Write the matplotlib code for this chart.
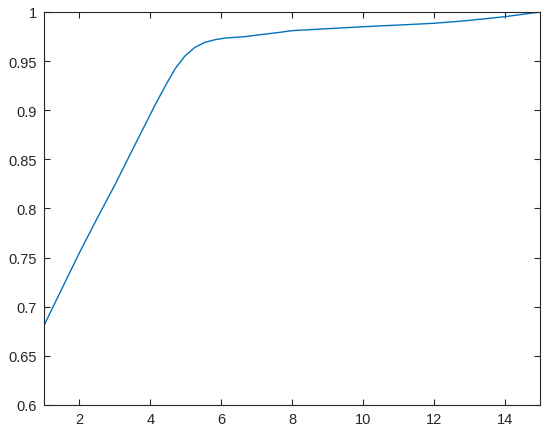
import matplotlib
matplotlib.use("Agg")
import matplotlib.pyplot as plt
from matplotlib.ticker import FixedLocator, FuncFormatter

x_vals = [1.0, 1.5, 2.0, 2.5, 3.0, 3.5, 3.85, 4.13, 4.42, 4.70, 4.98, 5.26,
          5.54, 5.83, 6.11, 6.67, 7.10, 7.66, 8.0, 9.0, 10.0, 11.0, 12.0,
          12.93, 14.0, 15.0]
y_vals = [0.681, 0.718, 0.755, 0.790, 0.824, 0.860, 0.885, 0.905, 0.9245,
          0.9422, 0.9553, 0.9640, 0.9691, 0.9718, 0.9735, 0.9749, 0.9769,
          0.9793, 0.981, 0.983, 0.985, 0.9867, 0.9885, 0.9912, 0.9952, 1.0]

x_ticks = [2, 4, 6, 8, 10, 12, 14]
y_ticks = [0.6, 0.65, 0.7, 0.75, 0.8, 0.85, 0.9, 0.95, 1.0]

plt.rcParams['font.family'] = ['Liberation Sans', 'DejaVu Sans']

fig = plt.figure(figsize=(5.5, 4.39), dpi=100)
ax = fig.add_axes([44/550, 1-406/439, (540-44)/550, (406-13)/439])
ax.plot(x_vals, y_vals, color='#0072BD', lw=1.0, solid_joinstyle='round')
ax.set_xlim(1, 15)
ax.set_ylim(0.6, 1.0)
ax.xaxis.set_major_locator(FixedLocator(x_ticks))
ax.yaxis.set_major_locator(FixedLocator(y_ticks))
ax.yaxis.set_major_formatter(FuncFormatter(lambda v, p: ('%.2f' % v).rstrip('0').rstrip('.')))
axcol = '#262626'
for s in ax.spines.values():
    s.set_color(axcol)
    s.set_linewidth(0.8)
ax.tick_params(direction='in', length=4, width=0.8, colors=axcol,
               labelcolor=axcol, labelsize=10.5, top=True, right=True,
               pad=5)
fig.savefig('out.png', dpi=100)
